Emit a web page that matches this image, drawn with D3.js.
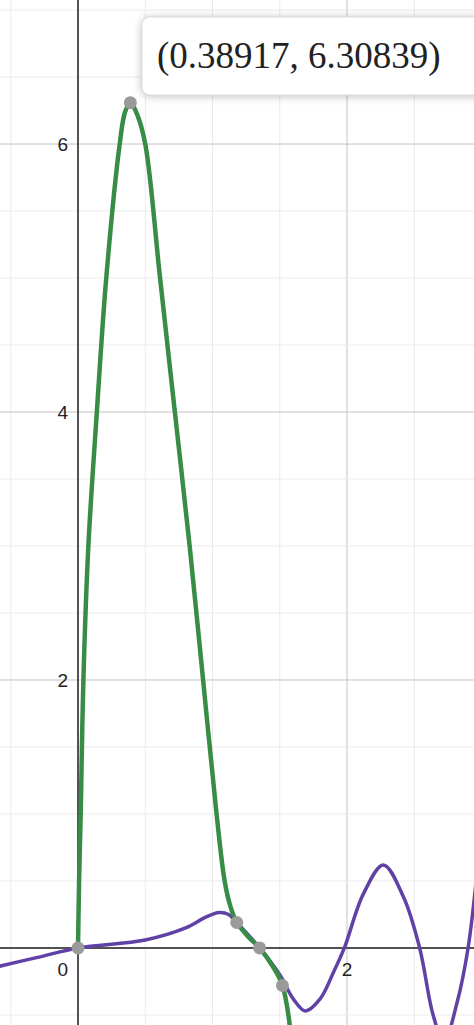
<!DOCTYPE html>
<html><head><meta charset="utf-8">
<script src="https://cdn.jsdelivr.net/npm/d3@7"></script>
<style>body{margin:0;background:#fff}svg{display:block}</style>
</head><body><svg id="c" width="474" height="1025"></svg>
<script>
const greenX=[0,0.008,0.02,0.04,0.077,0.14,0.21,0.31,0.35,0.389,0.44,0.5,0.61,0.72,0.83,0.93,1.03,1.09,1.13,1.18,1.26,1.35,1.45,1.52,1.58];
const greenY=[0,0.5,1,2,3,4,5,6,6.24,6.308,6.22,6,5,4,3,2,1,0.5,0.32,0.19,0.09,0.0,-0.14,-0.28,-0.62];
const purpleX=[-0.6,-0.3,0,0.5,0.8,0.95,1.05,1.12,1.18,1.35,1.5,1.6,1.69,1.8,1.9,1.98,2.12,2.27,2.42,2.54,2.64,2.72,2.82,2.9,2.96];
const purpleY=[-0.14,-0.07,0,0.06,0.15,0.23,0.265,0.25,0.19,0,-0.2,-0.38,-0.47,-0.38,-0.18,0,0.4,0.62,0.38,0,-0.5,-0.7,-0.4,0,0.5];
const pointX=[0,0.38917,1.18,1.35,1.52];
const pointY=[0,6.30839,0.19,0.0,-0.28];
const yTicks=[2,4,6], xTicks=[2];
const x=d3.scaleLinear().domain([-0.58,2.944]).range([0,474]);
const y=d3.scaleLinear().domain([-0.575,7.075]).range([1025,0]);
const svg=d3.select('#c');
const minor=d3.range(-0.5,3.01,0.5), minorY=d3.range(-0.5,7.01,0.5);
const g=svg.append('g');
minor.forEach(v=>g.append('line').attr('x1',x(v)).attr('x2',x(v)).attr('y1',0).attr('y2',1025).attr('stroke',v%2===0?'#c4c4c4':'#ebebeb').attr('stroke-width',1));
minorY.forEach(v=>g.append('line').attr('y1',y(v)).attr('y2',y(v)).attr('x1',0).attr('x2',474).attr('stroke',v%2===0?'#c4c4c4':'#ebebeb').attr('stroke-width',1));
g.append('line').attr('x1',x(0)).attr('x2',x(0)).attr('y1',0).attr('y2',1025).attr('stroke','#222').attr('stroke-width',1.5);
g.append('line').attr('y1',y(0)).attr('y2',y(0)).attr('x1',0).attr('x2',474).attr('stroke','#222').attr('stroke-width',1.5);
const ff='Arial, "Liberation Sans", sans-serif';
yTicks.forEach(v=>svg.append('text').attr('x',x(0)-10).attr('y',y(v)+7).attr('text-anchor','end').attr('font-family',ff).attr('font-size',19).attr('fill','#222').text(v));
svg.append('text').attr('x',x(0)-10).attr('y',y(0)+28).attr('text-anchor','end').attr('font-family',ff).attr('font-size',19).attr('fill','#222').text('0');
xTicks.forEach(v=>svg.append('text').attr('x',x(v)).attr('y',y(0)+28).attr('text-anchor','middle').attr('font-family',ff).attr('font-size',19).attr('fill','#222').text(v));
const line=d3.line().x(d=>x(d[0])).y(d=>y(d[1])).curve(d3.curveCatmullRom.alpha(0.5));
svg.append('path').attr('d',line(purpleX.map((v,i)=>[v,purpleY[i]]))).attr('fill','none').attr('stroke','#6042a6').attr('stroke-width',3.5);
svg.append('path').attr('d',line(greenX.map((v,i)=>[v,greenY[i]]))).attr('fill','none').attr('stroke','#388c46').attr('stroke-width',4.5);
pointX.forEach((v,i)=>svg.append('circle').attr('cx',x(v)).attr('cy',y(pointY[i])).attr('r',6.5).attr('fill','#9a9a9a'));
const tip=svg.append('g');
tip.append('rect').attr('x',142).attr('y',17).attr('width',345).attr('height',78).attr('rx',8).attr('fill','#fff').attr('stroke','#ddd').style('filter','drop-shadow(0 1px 4px rgba(0,0,0,0.25))');
tip.append('text').attr('x',157).attr('y',68).attr('font-family','"Liberation Serif", "DejaVu Serif", serif').attr('font-size',37).attr('fill','#222').text('(0.38917, 6.30839)');
</script></body></html>
